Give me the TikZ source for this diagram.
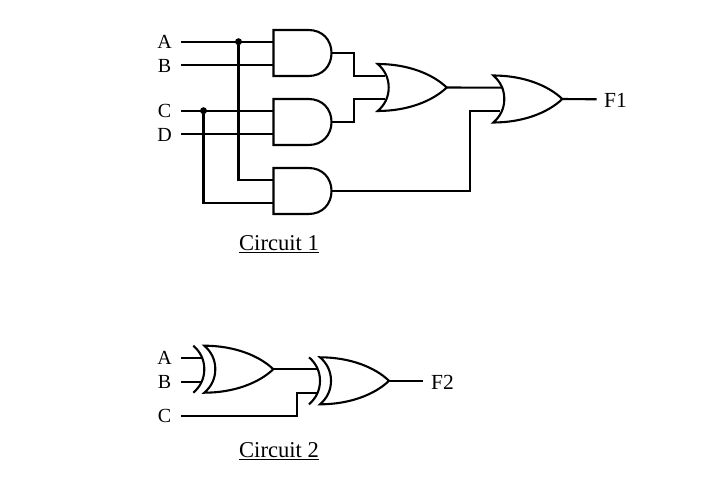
\documentclass[tikz,border=0pt]{standalone}
\usepackage{fontspec}
\setmainfont{Liberation Serif}
\usetikzlibrary{calc}
\tikzset{
  wire/.style={line width=2.1pt,line join=miter},
  lbl/.style={inner sep=0pt,font=\fontsize{20}{22}\selectfont},
  outlbl/.style={inner sep=0pt,anchor=west,font=\fontsize{21.5}{24}\selectfont},
  captxt/.style={inner sep=0pt,font=\fontsize{22.6}{25}\selectfont},
  junction/.style={circle,fill=black,inner sep=0pt,minimum size=7pt},
  andg/.pic={
    \draw[wire] (35,0) -- (0,0) -- (0,46) -- (35,46) .. controls (49,46) and (58,36) .. (58,23) .. controls (58,10) and (49,0) .. (35,0) -- cycle;
    \coordinate (-out) at (58,23);
  },
  org/.pic={
    \draw[wire] (0,0) .. controls (30,0) and (55,10) .. (69,23.5) .. controls (55,37) and (30,47) .. (0,47)
      .. controls (7,41) and (11,33) .. (11,23.5) .. controls (11,14) and (7,6) .. (0,0) -- cycle;
    \coordinate (-out) at (69,23.5);
  },
  xorg/.pic={
    \draw[wire] (0,0) .. controls (30,0) and (55,10) .. (69,23.5) .. controls (55,37) and (30,47) .. (0,47)
      .. controls (7,41) and (11,33) .. (11,23.5) .. controls (11,14) and (7,6) .. (0,0) -- cycle;
    \draw[wire] (-11,0) .. controls (-4,6) and (0,14) .. (0,23.5) .. controls (0,33) and (-4,41) .. (-11,47);
    \coordinate (-out) at (69,23.5);
  },
}
\begin{document}
\begin{tikzpicture}[x=1pt,y=-1pt]
\useasboundingbox (0,0) rectangle (711,497);
% circuit 1
\pic (g1) at (273.5,30) {andg};
\pic (g2) at (273.5,99) {andg};
\pic (g3) at (273.5,168) {andg};
\pic (o1) at (377.7,64) {org};
\pic (o2) at (493.3,75.5) {org};
\node[lbl] (A1) at (164.5,41.5) {A};
\node[lbl] (B1) at (164.5,65.5) {B};
\node[lbl] (C1) at (164.5,110.5) {C};
\node[lbl] (D1) at (164.5,134.5) {D};
\node[outlbl] (F1) at (604,100) {F1};
\node[captxt] (cap1) at (279,244) {\underline{Circuit 1}};
\node[junction] (j1) at (238.5,41.7) {};
\node[junction] (j2) at (203.5,110.7) {};
\coordinate (a0) at (181,41.7);
\coordinate (b0) at (181,64.7);
\coordinate (c0) at (181,110.7);
\coordinate (d0) at (181,134);
\coordinate (g1a) at (273.5,41.7);
\coordinate (g1b) at (273.5,64.7);
\coordinate (g2a) at (273.5,110.7);
\coordinate (g2b) at (273.5,134);
\coordinate (g3a) at (273.5,180);
\coordinate (g3b) at (273.5,202.7);
\coordinate (o1a) at (385,76);
\coordinate (o1b) at (385,99.3);
\coordinate (o2a) at (503,87.7);
\coordinate (o2b) at (500,111);
\coordinate (f1e) at (596.7,99.3);
\draw[wire] (a0) -- (g1a);
\draw[wire] (b0) -- (g1b);
\draw[wire] (c0) -- (g2a);
\draw[wire] (d0) -- (g2b);
\draw[wire] (j1) |- (g3a);
\draw[wire] (j2) |- (g3b);
\draw[wire] (g1-out) -| (354,76) -- (o1a);
\draw[wire] (g2-out) -| (354,99.3) -- (o1b);
\draw[wire] (o1-out) -- (o2a);
\draw[wire] (g3-out) -| (470,111) -- (o2b);
\draw[wire] (o2-out) -- (f1e);
% circuit 2
\pic (x1) at (204.3,345.7) {xorg};
\pic (x2) at (320,357.3) {xorg};
\node[lbl] (A2) at (164.5,357.5) {A};
\node[lbl] (B2) at (164.5,381.5) {B};
\node[lbl] (C2) at (164.5,416) {C};
\node[outlbl] (F2) at (431,382) {F2};
\node[captxt] (cap2) at (279,451) {\underline{Circuit 2}};
\coordinate (a2) at (181,358.3);
\coordinate (b2) at (181,381.7);
\coordinate (c2) at (181,415.7);
\coordinate (x1a) at (202,358.3);
\coordinate (x1b) at (202,381.7);
\coordinate (x2a) at (317,369.2);
\coordinate (x2b) at (317,392.7);
\coordinate (f2e) at (423.3,380.8);
\draw[wire] (a2) -- (x1a);
\draw[wire] (b2) -- (x1b);
\draw[wire] (x1-out) -- (x2a);
\draw[wire] (c2) -| (296.7,392.7) -- (x2b);
\draw[wire] (x2-out) -- (f2e);
\end{tikzpicture}
\end{document}
